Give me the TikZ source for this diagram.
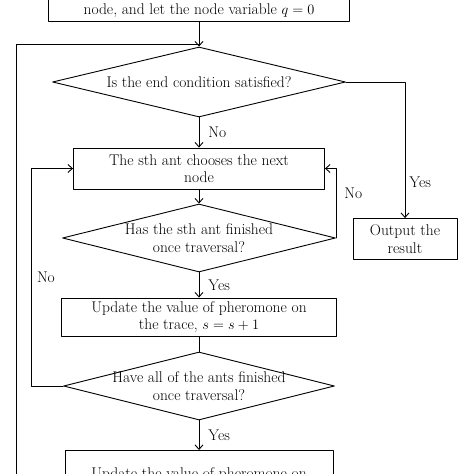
\documentclass[tikz,border=0pt]{standalone}
\usetikzlibrary{shapes.geometric,arrows.meta}
\begin{document}
\begin{tikzpicture}[x=1pt,y=-1pt,line cap=round,line join=round]
  \tikzset{
    box/.style={draw=black,line width=0.9pt,rectangle,inner sep=0pt,align=center,
      font=\fontsize{15.5}{17.5}\selectfont},
    decision/.style={draw=black,line width=0.9pt,diamond,aspect=4,inner sep=-12pt,
      align=center,font=\fontsize{15.5}{17.5}\selectfont},
    flow/.style={line width=0.9pt,-{Straight Barb[length=4.5pt,width=8pt]}},
    tag/.style={font=\fontsize{15.5}{17.5}\selectfont,inner sep=0pt}
  }
  \useasboundingbox (0,0) rectangle (474,474);
  \clip (0,0) rectangle (474,474);
  % The first and the last box run over the edges of the picture.
  \node[box,anchor=south,minimum width=301pt,text height=40pt,text depth=7pt] (init)
    at (199,22) {node, and let the node variable $q = 0$};
  \node[decision,minimum width=293pt,minimum height=70pt] (endq) at (199,82)
    {Is the end condition satisfied?};
  \node[box,minimum width=104pt,minimum height=41pt] (outres) at (405,239)
    {Output the\\result};
  \node[box,minimum width=251pt,minimum height=41pt] (choose) at (199,168.5)
    {The sth ant chooses the next\\node};
  \node[decision,minimum width=273pt,minimum height=68pt] (hasfin) at (199,238)
    {Has the sth ant finished\\once traversal?};
  \node[box,minimum width=275pt,minimum height=38pt] (upd) at (199,317)
    {Update the value of pheromone on\\the trace, $s = s + 1$};
  \node[decision,minimum width=271pt,minimum height=68pt] (allants) at (199,386)
    {Have all of the ants finished\\once traversal?};
  \node[box,anchor=north,minimum width=268pt,text height=28pt,text depth=20pt] (updall)
    at (199,450) {Update the value of pheromone on};
  % Connectors.
  \coordinate (join) at (199,44);
  \coordinate (back) at (16,490);
  \draw[flow] (init.south) -- (endq.north);
  \draw[line width=0.9pt] (back) |- (join);
  \draw[flow] (endq.east) -| node[tag,pos=0.87,right=4pt] (lyes1) {Yes} (outres.north);
  \draw[flow] (endq.south) -- node[tag,right=9pt] (lno1) {No} (choose.north);
  \draw[flow] (choose.south) -- (hasfin.north);
  \draw[flow] (hasfin.east) |- node[tag,pos=0.32,right=8pt] (lno2) {No} (choose.east);
  \draw[flow] (hasfin.south) -- node[tag,right=9pt] (lyes2) {Yes} (upd.north);
  \draw[line width=0.9pt] (upd.south) -- (allants.north);
  \draw[flow] (allants.west) -- ++(-31.5,0) |- node[tag,pos=0.25,right=5pt] (lno3) {No}
    (choose.west);
  \draw[flow] (allants.south) -- node[tag,right=9pt] (lyes3) {Yes} (updall.north);
\end{tikzpicture}
\end{document}
